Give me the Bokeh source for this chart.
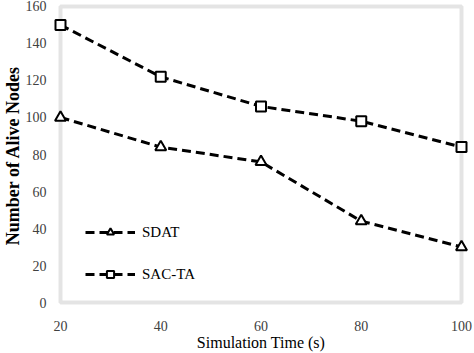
from bokeh.plotting import figure
from bokeh.models import FixedTicker, Range1d, BoxAnnotation, Legend, LegendItem, Title
from bokeh.embed import file_html
from bokeh.resources import INLINE

# Data
time_s = [20, 40, 60, 80, 100]
sdat = [100, 84, 76, 44, 30]
sac_ta = [150, 122, 106, 98, 84]
x_ticks = [20, 40, 60, 80, 100]
y_ticks = [0, 20, 40, 60, 80, 100, 120, 140, 160]
y_max = 160
y_min = 0
x_title = "Simulation Time (s)"
y_title = "Number of Alive Nodes"

# layout (pixels)
W, H = 474, 353
frame_left, frame_right = 50, 471
frame_top, frame_bottom = 2, 310
data_left_px, data_right_px = 60, 461
data_top_px, data_bottom_px = 6, 304

sx = (data_right_px - data_left_px) / (max(time_s) - min(time_s))
sy = (data_bottom_px - data_top_px) / (y_max - y_min)
x_start = min(time_s) - (data_left_px - frame_left) / sx
x_end = max(time_s) + (frame_right - data_right_px) / sx
y_end = y_max + (data_top_px - frame_top) / sy
y_start = y_min - (frame_bottom - data_bottom_px) / sy

p = figure(width=W, height=H, output_backend="svg", toolbar_location=None,
           x_range=Range1d(x_start, x_end), y_range=Range1d(y_start, y_end),
           min_border_left=frame_left, min_border_right=W - frame_right,
           min_border_top=frame_top, min_border_bottom=H - frame_bottom)
p.outline_line_color = None
p.grid.visible = False
p.background_fill_color = "white"
p.border_fill_color = "white"

box = BoxAnnotation(left=min(time_s), right=max(time_s), bottom=y_min, top=y_max,
                    fill_color=None, line_color="#a6a6a6", line_width=4, level="underlay")
p.add_layout(box)

font = "Liberation Serif"
for ax in (p.xaxis[0], p.yaxis[0]):
    ax.axis_line_color = None
    ax.major_tick_line_color = None
    ax.minor_tick_line_color = None
    ax.major_tick_out = 0
    ax.major_tick_in = 0
    ax.major_label_text_font = font
    ax.major_label_text_font_size = "14px"
    ax.major_label_text_color = "#404040"
    ax.axis_label_text_font = font
    ax.axis_label_text_color = "#000000"

p.xaxis.ticker = FixedTicker(ticks=x_ticks)
p.yaxis.ticker = FixedTicker(ticks=y_ticks)
p.xaxis.major_label_standoff = 12
p.yaxis.major_label_standoff = 4
p.xaxis.axis_label = x_title
p.xaxis.axis_label_text_font_size = "16px"
p.xaxis.axis_label_text_font_style = "normal"
p.xaxis.axis_label_standoff = 0

ytitle = Title(text=y_title, align="center", text_font=font, text_font_size="18px",
               text_font_style="bold", text_color="#000000", standoff=0, offset=0)
p.add_layout(ytitle, "left")

l1 = p.line(time_s, sdat, line_color="black", line_width=3, line_dash="9 5")
m1 = p.scatter(time_s, sdat, marker="triangle", size=11, fill_color="white",
               line_color="black", line_width=2)
l2 = p.line(time_s, sac_ta, line_color="black", line_width=3, line_dash="9 5")
m2 = p.scatter(time_s, sac_ta, marker="square", size=10, fill_color="white",
               line_color="black", line_width=2)

legend = Legend(items=[LegendItem(label="SDAT", renderers=[l1, m1]),
                       LegendItem(label="SAC-TA", renderers=[l2, m2])],
                location=(35, 25), orientation="vertical",
                glyph_width=50, glyph_height=18, spacing=24, padding=0, margin=0,
                label_standoff=7, label_text_font=font, label_text_font_size="15px",
                label_text_color="#000000", border_line_color=None,
                background_fill_alpha=0)
p.add_layout(legend, "center")

open("out.html", "w").write(file_html(p, INLINE))
